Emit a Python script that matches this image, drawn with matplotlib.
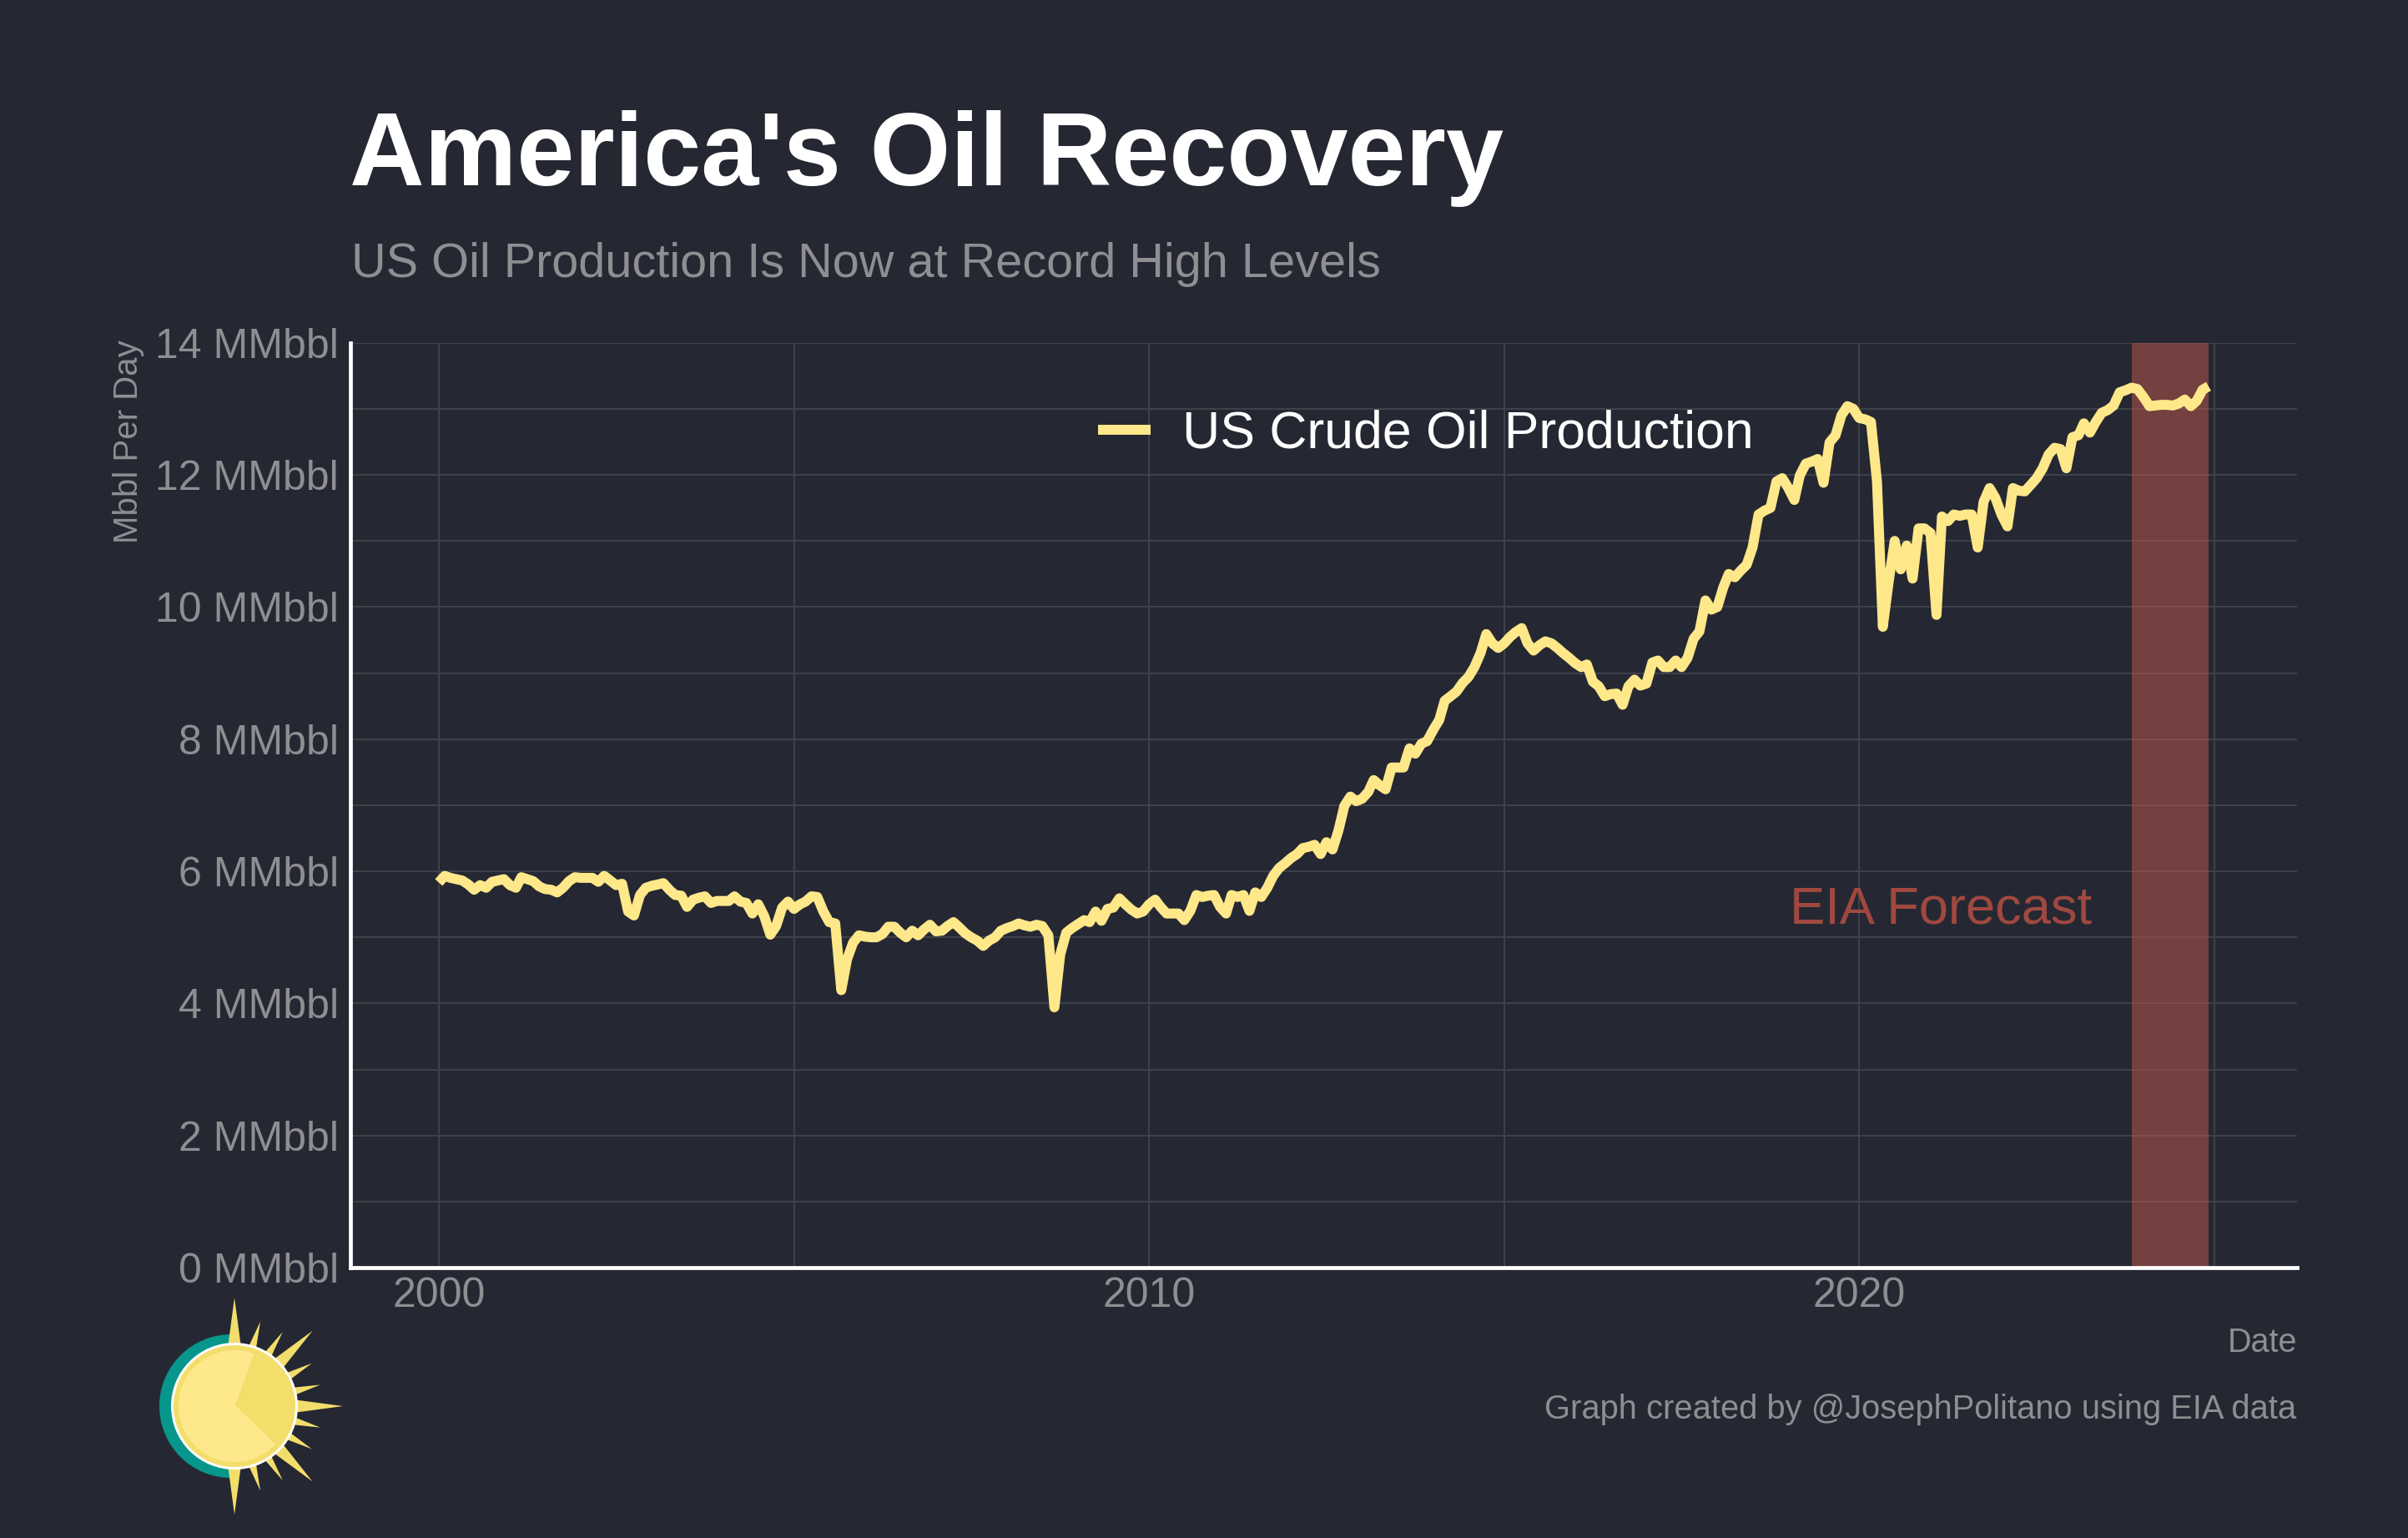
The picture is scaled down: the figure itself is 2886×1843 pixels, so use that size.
import numpy as np
import pandas as pd
import matplotlib
matplotlib.use("Agg")
import matplotlib.pyplot as plt
import matplotlib.dates as mdates
from matplotlib.patches import Wedge, Circle, Polygon
from matplotlib.ticker import FixedLocator, MultipleLocator, FuncFormatter

plt.rcParams['font.family'] = ['Liberation Sans', 'DejaVu Sans']

# ---------------- data (million barrels per day, monthly, Jan 2000 - Dec 2024) ----------------
start_month = "2000-01-01"
production = [
    # 2000
    5.83, 5.93, 5.90, 5.88, 5.86, 5.80, 5.72, 5.79, 5.75, 5.84, 5.86, 5.88,
    # 2001
    5.79, 5.75, 5.91, 5.88, 5.85, 5.77, 5.73, 5.72, 5.68, 5.75, 5.85, 5.91,
    # 2002
    5.90, 5.90, 5.90, 5.84, 5.93, 5.86, 5.79, 5.81, 5.39, 5.33, 5.64, 5.75,
    # 2003
    5.78, 5.80, 5.82, 5.72, 5.64, 5.63, 5.46, 5.57, 5.60, 5.62, 5.52, 5.55,
    # 2004
    5.55, 5.55, 5.62, 5.54, 5.52, 5.36, 5.50, 5.32, 5.04, 5.17, 5.45, 5.54,
    # 2005
    5.43, 5.50, 5.54, 5.62, 5.61, 5.39, 5.23, 5.21, 4.20, 4.67, 4.92, 5.03,
    # 2006
    5.01, 5.00, 5.00, 5.05, 5.16, 5.16, 5.07, 5.00, 5.10, 5.03, 5.12, 5.19,
    # 2007
    5.09, 5.10, 5.17, 5.23, 5.15, 5.06, 5.00, 4.95, 4.87, 4.95, 5.00, 5.10,
    # 2008
    5.14, 5.17, 5.21, 5.18, 5.16, 5.19, 5.17, 5.03, 3.94, 4.74, 5.07, 5.14,
    # 2009
    5.20, 5.26, 5.23, 5.39, 5.25, 5.43, 5.45, 5.59, 5.50, 5.42, 5.36, 5.39,
    # 2010
    5.50, 5.57, 5.46, 5.36, 5.36, 5.36, 5.26, 5.40, 5.64, 5.61, 5.63, 5.64,
    # 2011
    5.46, 5.36, 5.64, 5.61, 5.64, 5.40, 5.68, 5.61, 5.75, 5.93, 6.05, 6.12,
    # 2012
    6.20, 6.26, 6.35, 6.37, 6.40, 6.26, 6.44, 6.33, 6.62, 6.99, 7.13, 7.06,
    # 2013
    7.10, 7.20, 7.38, 7.30, 7.24, 7.57, 7.57, 7.57, 7.86, 7.78, 7.93, 7.97,
    # 2014
    8.14, 8.29, 8.58, 8.65, 8.72, 8.85, 8.94, 9.09, 9.30, 9.59, 9.45, 9.38,
    # 2015
    9.45, 9.55, 9.62, 9.68, 9.45, 9.34, 9.42, 9.48, 9.45, 9.38, 9.30, 9.23,
    # 2016
    9.15, 9.09, 9.13, 8.87, 8.80, 8.65, 8.68, 8.69, 8.52, 8.80, 8.90, 8.81,
    # 2017
    8.84, 9.16, 9.19, 9.09, 9.09, 9.19, 9.09, 9.23, 9.52, 9.63, 10.10, 9.96,
    # 2018
    10.00, 10.30, 10.50, 10.45, 10.55, 10.64, 10.90, 11.40, 11.46, 11.50, 11.90, 11.95,
    # 2019
    11.80, 11.62, 11.99, 12.17, 12.20, 12.24, 11.88, 12.49, 12.60, 12.90, 13.04, 13.00,
    # 2020
    12.86, 12.84, 12.80, 11.90, 9.70, 10.40, 11.00, 10.57, 10.93, 10.43, 11.19, 11.19,
    # 2021
    11.12, 9.88, 11.37, 11.30, 11.40, 11.38, 11.40, 11.40, 10.90, 11.59, 11.80, 11.65,
    # 2022
    11.40, 11.22, 11.80, 11.76, 11.75, 11.85, 11.95, 12.10, 12.31, 12.41, 12.39, 12.10,
    # 2023
    12.57, 12.60, 12.78, 12.64, 12.80, 12.94, 12.98, 13.05, 13.25, 13.28, 13.32, 13.30,
    # 2024
    13.18, 13.04, 13.05, 13.06, 13.06, 13.05, 13.08, 13.14, 13.04, 13.12, 13.29, 13.34,
]
series_label = "US Crude Oil Production"
forecast_start = "2023-11-01"
forecast_end = "2024-12-01"
forecast_label = "EIA Forecast"
forecast_label_pos = ("2019-01-10", 5.21)
y_ticks = [0, 2, 4, 6, 8, 10, 12, 14]
y_unit = "MMbbl"

dates = pd.date_range(start_month, periods=len(production), freq="MS")

# ---------------- style ----------------
BG = "#252832"
GRID = "#3F424B"
GRAY = "#8E8E93"
LINE = "#FEE88A"
BAND = "#C3584E"
FC_TEXT = "#A04840"
TEAL = "#07968C"
YLIGHT = "#FDE88C"
YDARK = "#F3DD6B"

W, H = 2886, 1843
fig = plt.figure(figsize=(W / 100, H / 100), dpi=100, facecolor=BG)

ax_l, ax_r, ax_t, ax_b = 420, 2753, 410.7, 1519
ax = fig.add_axes([ax_l / W, 1 - ax_b / H, (ax_r - ax_l) / W, (ax_b - ax_t) / H])
ax.set_facecolor(BG)

ax.axvspan(pd.Timestamp(forecast_start), pd.Timestamp(forecast_end), color=BAND,
           alpha=0.5, lw=0, zorder=2)
ax.plot(dates, production, color=LINE, lw=8.6, solid_joinstyle="round",
        solid_capstyle="butt", label=series_label, zorder=3)

ax.text(pd.Timestamp(forecast_label_pos[0]), forecast_label_pos[1], forecast_label,
        color=FC_TEXT, fontsize=45.5, ha="left", va="baseline", zorder=4)

ax.set_ylim(0, 14)
ax.set_xlim(pd.Timestamp("1998-10-04"), pd.Timestamp("2026-03-01"))

ax.yaxis.set_major_locator(FixedLocator(y_ticks))
ax.yaxis.set_minor_locator(MultipleLocator(1))
ax.yaxis.set_major_formatter(FuncFormatter(lambda v, p: f"{int(v)} {y_unit}"))
ax.xaxis.set_major_locator(mdates.YearLocator(10))
ax.xaxis.set_minor_locator(mdates.YearLocator(5))
ax.xaxis.set_major_formatter(mdates.DateFormatter("%Y"))

ax.set_axisbelow(True)
ax.grid(which="both", color=GRID, lw=1.4)
ax.tick_params(axis="both", which="both", length=0, labelsize=36, labelcolor=GRAY)
ax.tick_params(axis="y", pad=10)
ax.tick_params(axis="x", pad=8)

for s in ["top", "right"]:
    ax.spines[s].set_visible(False)
for s in ["left", "bottom"]:
    ax.spines[s].set_color("white")
    ax.spines[s].set_linewidth(3.4)

ax.set_ylabel("Mbbl Per Day", loc="top", fontsize=29, color=GRAY)
ax.yaxis.label.set_va("center")
ax.yaxis.set_label_coords((154 - ax_l) / (ax_r - ax_l), 1 + (ax_t - 407) / (ax_b - ax_t))

ax.set_xlabel("Date", loc="right", fontsize=28.5, color=GRAY)
ax.xaxis.label.set_va("baseline")
ax.xaxis.set_label_coords(1.0, (ax_b - 1620) / (ax_b - ax_t))

leg = ax.legend(loc="center left",
                bbox_to_anchor=((1316 - ax_l) / (ax_r - ax_l), (ax_b - 520) / (ax_b - ax_t)),
                frameon=False, fontsize=45, handlelength=1.0, handletextpad=0.62,
                borderpad=0, borderaxespad=0, labelcolor="white")

# titles and caption
fig.text(419 / W, 1 - 222 / H, "America's Oil Recovery", fontsize=89.5,
         fontweight="bold", color="white", ha="left", va="baseline")
fig.text(421 / W, 1 - 332 / H, "US Oil Production Is Now at Record High Levels",
         fontsize=41.5, color=GRAY, ha="left", va="baseline")
fig.text(2752 / W, 1 - 1700 / H, "Graph created by @JosephPolitano using EIA data",
         fontsize=28.7, color=GRAY, ha="right", va="baseline")

# ---------------- logo (sun) ----------------
lax = fig.add_axes([0, 0, 1, 1])
lax.set_xlim(0, W)
lax.set_ylim(0, H)
lax.axis("off")
cx, cy = 281, H - 1685
lax.add_patch(Wedge((277, cy), 86, 90, 270, fc=TEAL, ec="none"))
big = [0, 44, -44, 90, -90]
small = [14, -14, 29, -29, 57, -57, 73, -73]
for a, L, hw, r0 in [(a, 130, 10, 55) for a in big] + [(a, 106, 6.5, 60) for a in small]:
    t = np.deg2rad(a)
    d = np.array([np.cos(t), np.sin(t)])
    n = np.array([-np.sin(t), np.cos(t)])
    c = np.array([cx, cy])
    pts = [c + L * d, c + r0 * d + hw * n, c + r0 * d - hw * n]
    lax.add_patch(Polygon(pts, closed=True, fc=YDARK, ec="none"))
lax.add_patch(Circle((cx, cy), 76, fc="white", ec="none"))
lax.add_patch(Circle((cx, cy), 73, fc=YDARK, ec="none"))
lax.add_patch(Circle((cx, cy), 67, fc=YLIGHT, ec="none"))
lax.add_patch(Wedge((cx + 1, cy + 1), 67, -44, 70, fc=YDARK, ec="none"))

fig.savefig("out.png", dpi=100, facecolor=BG)
